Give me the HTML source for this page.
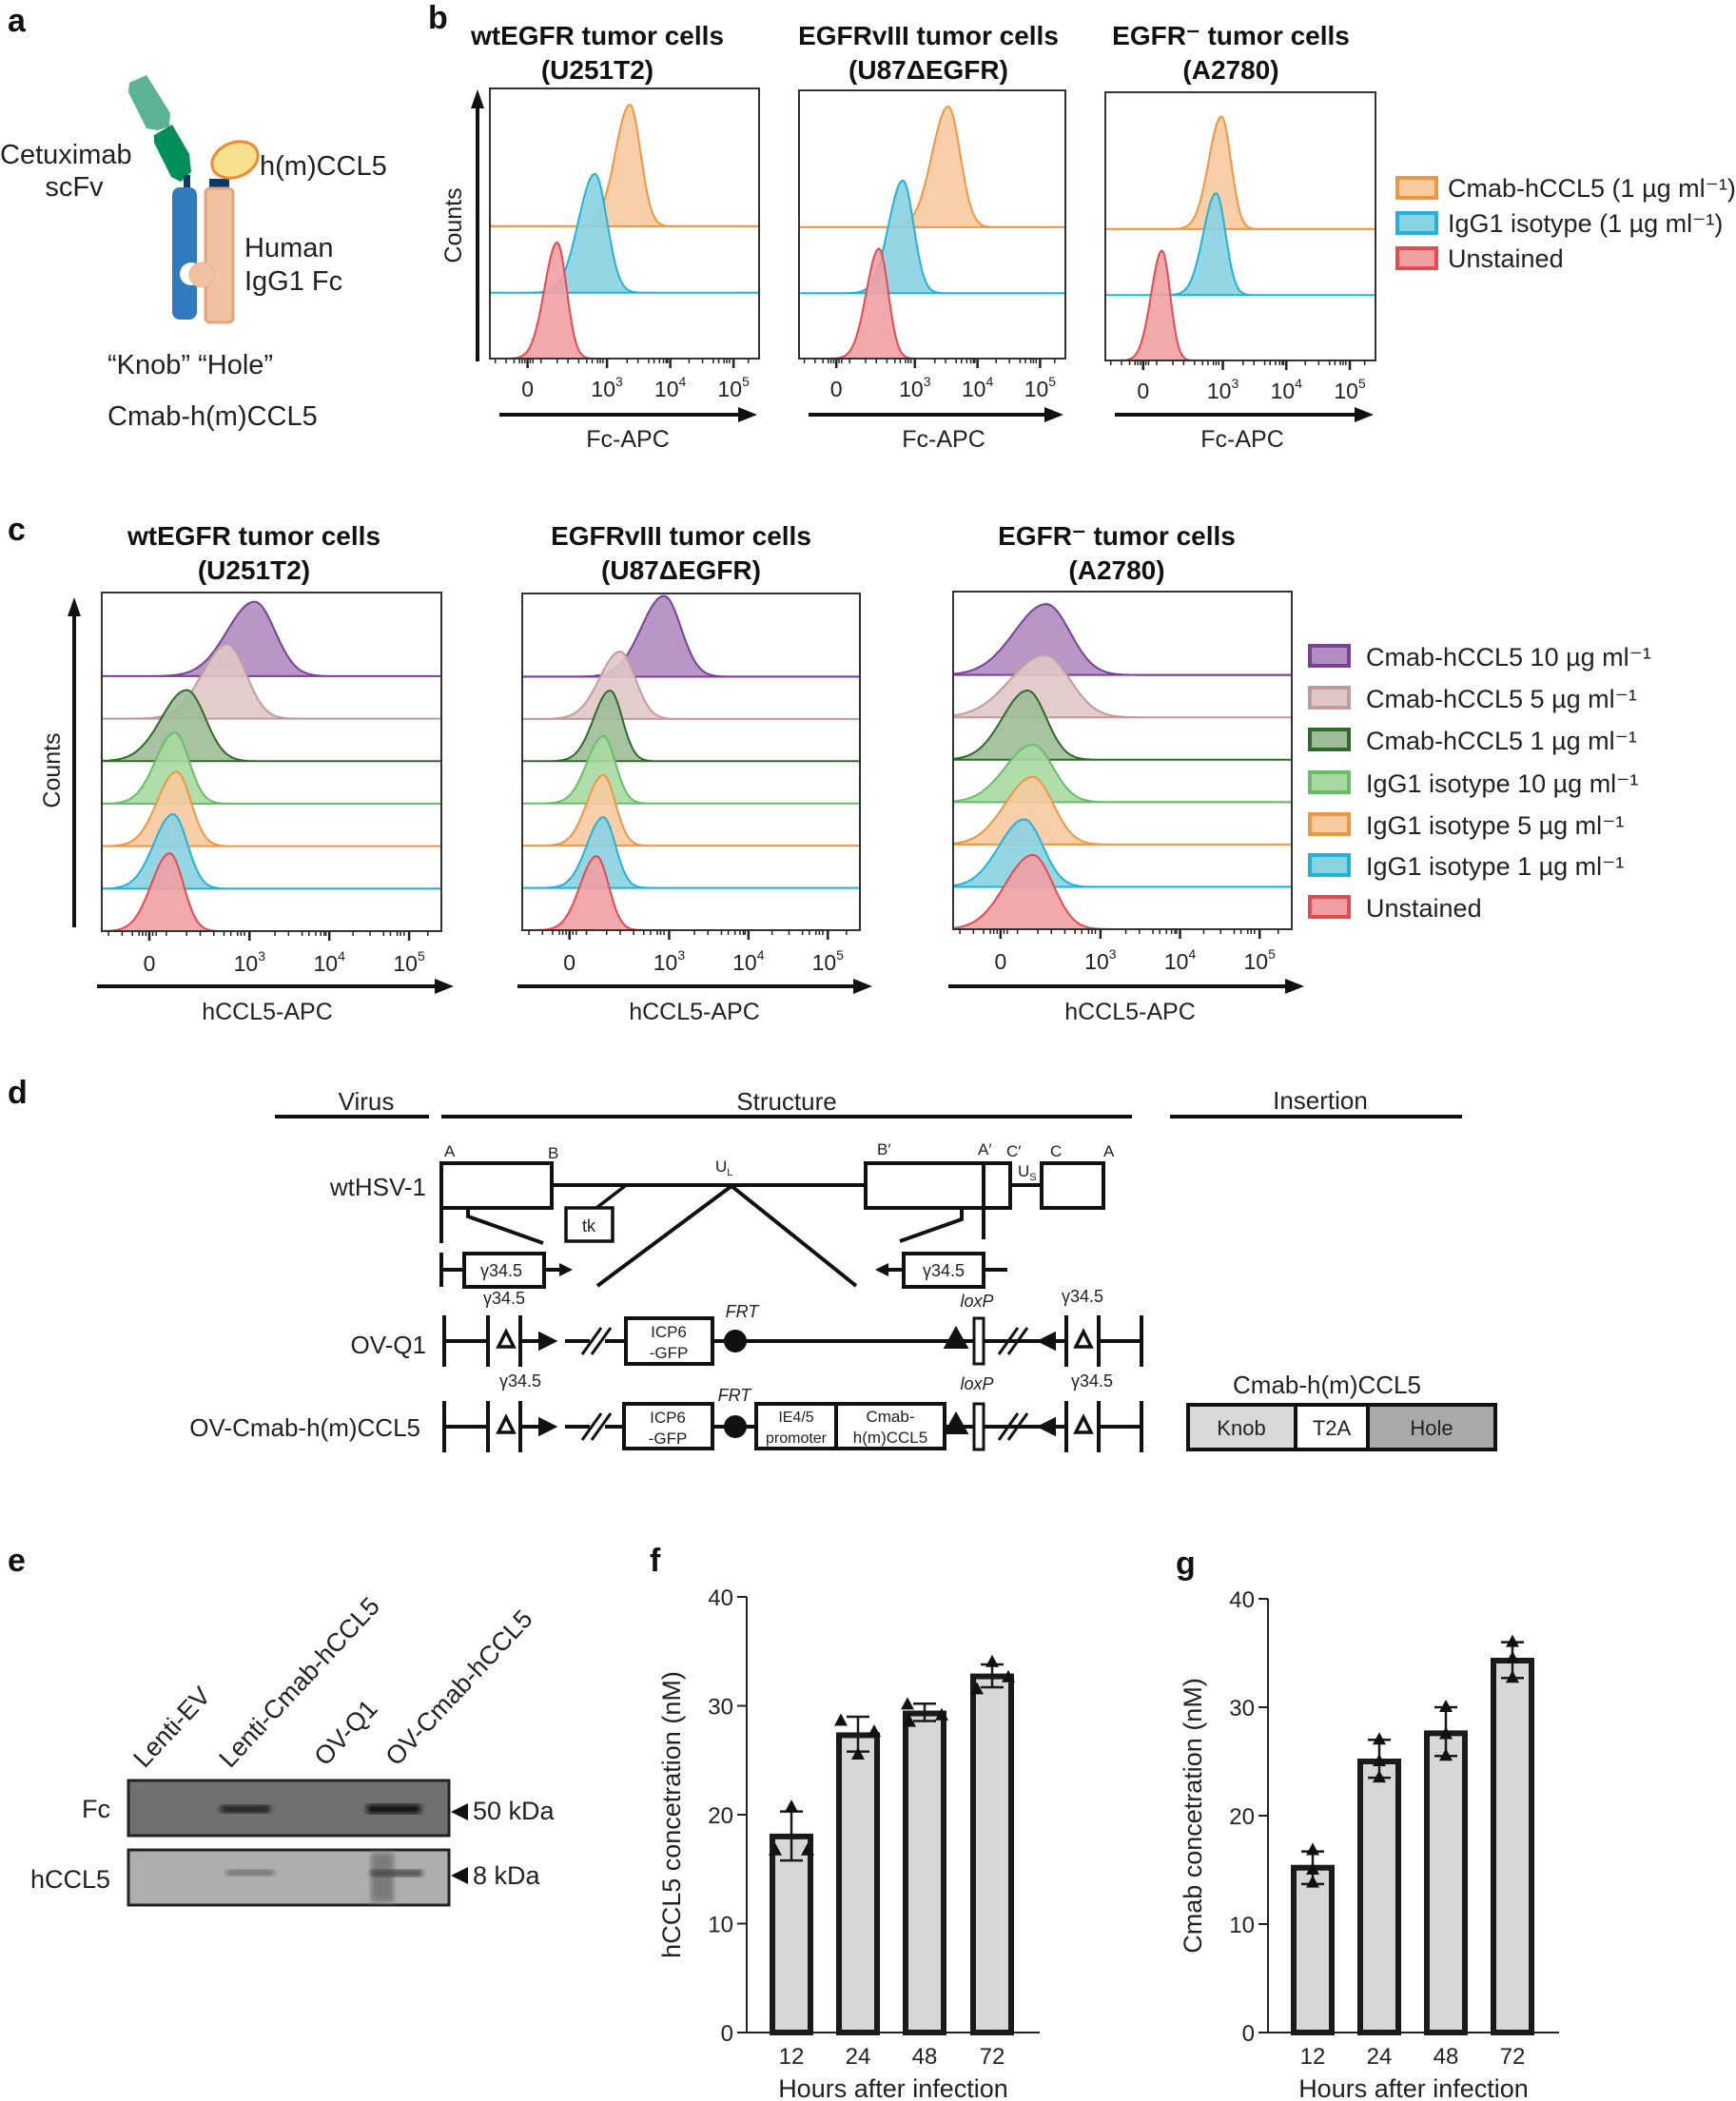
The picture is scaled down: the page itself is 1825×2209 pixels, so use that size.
<!DOCTYPE html>
<html><head><meta charset="utf-8">
<style>
html,body{margin:0;padding:0;background:#fff;}
svg{display:block;font-family:"Liberation Sans",Arial,sans-serif;}
</style></head>
<body>
<svg id="fig" width="1825" height="2209" viewBox="0 0 1825 2209" xmlns="http://www.w3.org/2000/svg">
<g font-weight="bold" font-size="34" fill="#111">
<text x="8" y="33">a</text><text x="450" y="30">b</text><text x="8" y="568">c</text>
<text x="8" y="1160">d</text><text x="8" y="1652">e</text><text x="683" y="1652">f</text><text x="1236" y="1655">g</text>
</g>

<!-- panel a -->
<g>
<polygon points="136,87 154,79 179,119 178,133 166,137 154,135 135,97" fill="#5bb397"/>
<polygon points="162,142 181,131 199,162 201,181 190,191 180,186 162,150" fill="#008f58"/>
<rect x="193" y="184" width="7" height="14" fill="#0b3a6b"/>
<rect x="181" y="197" width="26" height="139" rx="8" fill="#2f7bbd"/>
<rect x="220" y="188" width="21" height="11" fill="#0b3a6b"/>
<rect x="216" y="198" width="29" height="141" rx="5" fill="#efc2a2" stroke="#e8a27a" stroke-width="3"/>
<circle cx="201" cy="288" r="12" fill="#fff"/>
<circle cx="212" cy="289" r="13" fill="#efc2a2" stroke="#e8b490" stroke-width="1"/>
<ellipse cx="247" cy="168" rx="25" ry="18" transform="rotate(-22 247 168)" fill="#f7e08e" stroke="#ef8a34" stroke-width="3"/>
<g font-size="29" fill="#222">
<text x="0" y="172">Cetuximab</text><text x="78" y="206" text-anchor="middle">scFv</text>
<text x="273" y="184">h(m)CCL5</text><text x="257" y="270">Human</text><text x="257" y="305">IgG1 Fc</text>
<text x="113" y="393">“Knob”  “Hole”</text><text x="113" y="447">Cmab-h(m)CCL5</text>
</g>
</g>

<g id="flowB"></g>
<g id="flowC"></g>

<!-- panel d -->
<g stroke="#111" fill="none" stroke-width="4">
<g font-size="26" fill="#222" stroke="none">
<text x="385" y="1167" text-anchor="middle">Virus</text>
<text x="827" y="1167" text-anchor="middle">Structure</text>
<text x="1388" y="1166" text-anchor="middle">Insertion</text>
<text x="448" y="1257" text-anchor="end">wtHSV-1</text>
<text x="448" y="1423" text-anchor="end">OV-Q1</text>
<text x="442" y="1510" text-anchor="end">OV-Cmab-h(m)CCL5</text>
</g>
<line x1="289" y1="1174" x2="451" y2="1174"/><line x1="464" y1="1174" x2="1190" y2="1174"/><line x1="1230" y1="1174" x2="1537" y2="1174"/>
<g font-size="17" fill="#222" stroke="none">
<text x="467" y="1216">A</text><text x="576" y="1218">B</text><text x="752" y="1232">U<tspan font-size="11" dy="4">L</tspan></text>
<text x="922" y="1214">B′</text><text x="1028" y="1214">A′</text><text x="1058" y="1216">C′</text>
<text x="1070" y="1237">U<tspan font-size="11" dy="4">S</tspan></text><text x="1104" y="1216">C</text><text x="1160" y="1216">A</text>
</g>
<rect x="464" y="1223" width="116" height="47"/>
<line x1="580" y1="1246" x2="910" y2="1246"/>
<rect x="910" y="1223" width="152" height="47"/><line x1="1034" y1="1223" x2="1034" y2="1303"/>
<line x1="1062" y1="1246" x2="1095" y2="1246"/><rect x="1095" y="1223" width="65" height="47"/>
<rect x="595" y="1270" width="49" height="35" stroke-width="3.5"/><text x="619" y="1295" font-size="18" fill="#222" stroke="none" text-anchor="middle">tk</text>
<line x1="657" y1="1247" x2="627" y2="1270" stroke-width="3.5"/>
<polyline points="464,1270 464,1307"/><polyline points="492,1270 492,1279 571,1307"/>
<polyline points="1011,1270 1011,1282 946,1305"/>
<polyline points="628,1352 769,1247 900,1352"/>
<line x1="464" y1="1317" x2="464" y2="1353"/><line x1="464" y1="1335" x2="488" y2="1335"/>
<rect x="488" y="1318" width="84" height="35"/><line x1="572" y1="1335" x2="592" y2="1335"/><polygon points="602,1335 588,1328 588,1342" fill="#111" stroke="none"/>
<polygon points="920,1335 934,1328 934,1342" fill="#111" stroke="none"/><line x1="930" y1="1335" x2="950" y2="1335"/>
<rect x="950" y="1318" width="84" height="35"/><line x1="1034" y1="1335" x2="1059" y2="1335"/>
<g font-size="18" fill="#222" stroke="none" text-anchor="middle">
<text x="527" y="1342">γ34.5</text><text x="992" y="1342">γ34.5</text>
<text x="530" y="1371">γ34.5</text><text x="1138" y="1369">γ34.5</text>
<text x="547" y="1458">γ34.5</text><text x="1148" y="1458">γ34.5</text>
<text x="780" y="1385" font-style="italic">FRT</text><text x="772" y="1473" font-style="italic">FRT</text>
<text x="1027" y="1374" font-style="italic">loxP</text><text x="1027" y="1461" font-style="italic">loxP</text>
</g>
<g id="rowQ1"></g>
<g id="rowCmab"></g>
<rect x="658" y="1386" width="91" height="48"/>
<text x="703" y="1406" font-size="17" fill="#222" stroke="none" text-anchor="middle">ICP6</text><text x="703" y="1428" font-size="17" fill="#222" stroke="none" text-anchor="middle">-GFP</text>
<rect x="656" y="1476" width="93" height="47"/>
<text x="702" y="1496" font-size="17" fill="#222" stroke="none" text-anchor="middle">ICP6</text><text x="702" y="1518" font-size="17" fill="#222" stroke="none" text-anchor="middle">-GFP</text>
<rect x="795" y="1476" width="84" height="47"/><rect x="879" y="1476" width="114" height="47"/>
<text x="837" y="1495" font-size="16" fill="#222" stroke="none" text-anchor="middle">IE4/5</text><text x="837" y="1517" font-size="16" fill="#222" stroke="none" text-anchor="middle">promoter</text>
<text x="936" y="1495" font-size="17" fill="#222" stroke="none" text-anchor="middle">Cmab-</text><text x="936" y="1517" font-size="17" fill="#222" stroke="none" text-anchor="middle">h(m)CCL5</text>
<text x="1395" y="1465" font-size="26" fill="#222" stroke="none" text-anchor="middle">Cmab-h(m)CCL5</text>
<rect x="1249" y="1477" width="113" height="47" fill="#d9d9d9"/><rect x="1362" y="1477" width="76" height="47" fill="#fff"/><rect x="1438" y="1477" width="134" height="47" fill="#a9a9a9"/>
<g font-size="22" fill="#222" stroke="none" text-anchor="middle"><text x="1305" y="1509">Knob</text><text x="1400" y="1509">T2A</text><text x="1505" y="1509">Hole</text></g>
</g>

<!-- panel e -->
<g>
<defs>
<filter id="blur3"><feGaussianBlur stdDeviation="3"/></filter>
</defs>
<g font-size="27" fill="#222">
<text transform="translate(152,1860) rotate(-47)">Lenti-EV</text>
<text transform="translate(242,1860) rotate(-47)">Lenti-Cmab-hCCL5</text>
<text transform="translate(342,1858) rotate(-47)">OV-Q1</text>
<text transform="translate(417,1858) rotate(-47)">OV-Cmab-hCCL5</text>
<text x="116" y="1911" text-anchor="end">Fc</text><text x="116" y="1985" text-anchor="end">hCCL5</text>
<text x="497" y="1913">50 kDa</text><text x="497" y="1981">8 kDa</text>
</g>
<polygon points="474,1905 492,1896 492,1914" fill="#111"/><polygon points="474,1972 492,1963 492,1981" fill="#111"/>
<rect x="135" y="1872" width="337" height="58" fill="#707070" stroke="#222" stroke-width="3"/>
<rect x="232" y="1898" width="52" height="8" fill="#1e1e1e" filter="url(#blur3)"/>
<rect x="386" y="1897" width="56" height="10" fill="#111" filter="url(#blur3)"/>
<rect x="135" y="1945" width="337" height="58" fill="#aeaeae" stroke="#222" stroke-width="3"/>
<rect x="238" y="1966" width="50" height="6" fill="#6a6a6a" filter="url(#blur3)"/>
<rect x="390" y="1948" width="24" height="52" fill="#7a7a7a" filter="url(#blur3)"/>
<rect x="390" y="1966" width="54" height="7" fill="#444" filter="url(#blur3)"/>
</g>

<g id="barF"></g>
<g id="barG"></g>
</svg>

<script>
const NS='http://www.w3.org/2000/svg';
function mk(parent,tag,attrs,text){const e=document.createElementNS(NS,tag);for(const k in attrs)e.setAttribute(k,attrs[k]);if(text!==undefined)e.textContent=text;parent.appendChild(e);return e;}

// ---------- flow cytometry data ----------
const tickLabelsFlow=['0','10','10','10'];
const tickExpFlow=['','3','4','5'];
const tickFracFlow=[0.14,0.435,0.67,0.905];
const bSeries=['Cmab-hCCL5 (1 µg ml⁻¹)','IgG1 isotype (1 µg ml⁻¹)','Unstained'];
const bPeak=[[0.52,0.39,0.25],[0.56,0.39,0.30],[0.43,0.41,0.21]];
const bWidth=[[0.04,0.045,0.035],[0.045,0.04,0.035],[0.035,0.035,0.03]];
const bHeight=[[0.45,0.44,0.43],[0.45,0.42,0.41],[0.42,0.38,0.41]];
const bTitles=[['wtEGFR tumor cells','(U251T2)'],['EGFRvIII tumor cells','(U87ΔEGFR)'],['EGFR⁻ tumor cells','(A2780)']];
const cSeries=['Cmab-hCCL5 10 µg ml⁻¹','Cmab-hCCL5 5 µg ml⁻¹','Cmab-hCCL5 1 µg ml⁻¹','IgG1 isotype 10 µg ml⁻¹','IgG1 isotype 5 µg ml⁻¹','IgG1 isotype 1 µg ml⁻¹','Unstained'];
const cPeak=[[0.45,0.37,0.25,0.215,0.22,0.21,0.20],[0.42,0.29,0.26,0.24,0.24,0.24,0.22],[0.275,0.27,0.22,0.235,0.235,0.21,0.235]];
const cWidth=[[0.06,0.055,0.055,0.042,0.042,0.042,0.04],[0.05,0.045,0.036,0.036,0.036,0.036,0.036],[0.07,0.075,0.055,0.06,0.06,0.055,0.06]];
const cHeight=[[0.22,0.22,0.21,0.21,0.22,0.22,0.23],[0.24,0.20,0.21,0.20,0.21,0.21,0.22],[0.21,0.185,0.205,0.17,0.2,0.2,0.22]];
const cTitles=bTitles;

const fills=['#b08cc1','#dfc7c7','#9fbc98','#a7d9a0','#f8caa0','#89d2e2','#f0a0a3'];
const strokes=['#7b3f99','#c39b9b','#2f6a28','#66bf66','#f0963f','#1fb3dc','#e8484f'];
const bFill=['#f8caa0','#89d2e2','#f0a0a3'], bStroke=['#f0963f','#1fb3dc','#e8484f'];

function hist(g,x0,w,yBase,hPx,peak,sig,fill,stroke,name){
  let d='M'+x0+','+yBase;
  const N=160;
  for(let i=0;i<=N;i++){
    const f=i/N;
    const s=f<peak?sig*1.35:sig;
    const v=hPx*Math.exp(-Math.pow(f-peak,2)/(2*s*s));
    d+=' L'+(x0+f*w).toFixed(1)+','+(yBase-v).toFixed(1);
  }
  d+=' L'+(x0+w)+','+yBase+' Z';
  const p=mk(g,'path',{d:d,fill:fill,'fill-opacity':'0.9',stroke:stroke,'stroke-width':'2'});
  
  
}
function axisTicks(g,x0,w,yb,labelY){
  const ps=[0.02,0.06,0.09,0.11,0.12,0.13,0.15,0.16,0.19,0.25,0.29,0.33,0.36,0.38,0.40,0.41,0.42,0.51,0.55,0.59,0.61,0.63,0.645,0.655,0.66,0.74,0.79,0.83,0.85,0.87,0.88,0.89,0.96];
  ps.forEach(p=>mk(g,'line',{x1:x0+p*w,x2:x0+p*w,y1:yb,y2:yb+5,stroke:'#222','stroke-width':1.5}));
  tickFracFlow.forEach((p,i)=>{
    mk(g,'line',{x1:x0+p*w,x2:x0+p*w,y1:yb,y2:yb+10,stroke:'#222','stroke-width':2.5});
    const t=mk(g,'text',{x:x0+p*w,y:labelY,'font-size':23,'text-anchor':'middle',fill:'#222'});
    t.textContent=tickLabelsFlow[i];
    if(tickExpFlow[i]){const s=mk(t,'tspan',{'font-size':14,dy:-11});s.textContent=tickExpFlow[i];}
  });
}

// panel b
(function(){
  const g=document.getElementById('flowB');
  const boxes=[[515,93,283,284],[840,95,280,282],[1162,97,284,282]];
  const titleX=[628,976,1294], labX=[660,992,1306];
  boxes.forEach((b,k)=>{
    const [x,y,w,h]=b;
    const base=[y+0.51*h,y+0.756*h,y+h];
    for(let s=0;s<3;s++){
      mk(g,'line',{x1:x,x2:x+w,y1:base[s],y2:base[s],stroke:bStroke[s],'stroke-width':1.5});
    }
    for(let s=0;s<3;s++) hist(g,x,w,base[s],bHeight[k][s]*h,bPeak[k][s],bWidth[k][s],bFill[s],bStroke[s],'histogram-b'+(k+1)+'-'+s);
    mk(g,'rect',{x:x,y:y,width:w,height:h,fill:'none',stroke:'#333','stroke-width':2});
    axisTicks(g,x,w,y+h,y+h+40);
    mk(g,'line',{x1:x+10,x2:x+w-10,y1:436,y2:436,stroke:'#111','stroke-width':4});
    mk(g,'polygon',{points:(x+w-2)+',436 '+(x+w-22)+',428 '+(x+w-22)+',444',fill:'#111'});
    mk(g,'text',{x:labX[k],y:470,'font-size':25,'text-anchor':'middle',fill:'#222'},'Fc-APC');
    mk(g,'text',{x:titleX[k],y:47,'font-size':28,'font-weight':'bold','text-anchor':'middle',fill:'#111'},bTitles[k][0]);
    mk(g,'text',{x:titleX[k],y:83,'font-size':28,'font-weight':'bold','text-anchor':'middle',fill:'#111'},bTitles[k][1]);
  });
  mk(g,'line',{x1:502,x2:502,y1:380,y2:110,stroke:'#111','stroke-width':4});
  mk(g,'polygon',{points:'502,94 495,114 509,114',fill:'#111'});
  mk(g,'text',{transform:'translate(485,237) rotate(-90)','font-size':25,'text-anchor':'middle',fill:'#222'},'Counts');
  bSeries.forEach((s,i)=>{
    const y=187+i*37;
    const r=mk(g,'rect',{x:1469,y:y,width:41,height:21,fill:bFill[i],stroke:bStroke[i],'stroke-width':4});
    
    
    const t=mk(g,'text',{x:1522,y:y+20,'font-size':27,fill:'#222'},s);
    
    
  });
})();

// panel c
(function(){
  const g=document.getElementById('flowC');
  const boxes=[[107,623,357,356],[549,624,355,354],[1002,622,356,355]];
  const titleX=[267,716,1174], labX=[267,716,1174];
  boxes.forEach((b,k)=>{
    const [x,y,w,h]=b;
    for(let s=0;s<7;s++){
      const yb=y+h-(6-s)*(h*0.1255);
      mk(g,'line',{x1:x,x2:x+w,y1:yb,y2:yb,stroke:strokes[s],'stroke-width':1.5});
    }
    for(let s=0;s<7;s++){
      const yb=y+h-(6-s)*(h*0.1255);
      hist(g,x,w,yb,cHeight[k][s]*h,cPeak[k][s],cWidth[k][s],fills[s],strokes[s],'histogram-c'+(k+1)+'-'+s);
    }
    mk(g,'rect',{x:x,y:y,width:w,height:h,fill:'none',stroke:'#333','stroke-width':2});
    axisTicks(g,x,w,y+h,y+h+42);
    mk(g,'line',{x1:x-5,x2:x+w+5,y1:1037,y2:1037,stroke:'#111','stroke-width':4});
    mk(g,'polygon',{points:(x+w+13)+',1037 '+(x+w-7)+',1029 '+(x+w-7)+',1045',fill:'#111'});
    mk(g,'text',{x:labX[k]+14,y:1072,'font-size':25,'text-anchor':'middle',fill:'#222'},'hCCL5-APC');
    mk(g,'text',{x:titleX[k],y:573,'font-size':28,'font-weight':'bold','text-anchor':'middle',fill:'#111'},cTitles[k][0]);
    mk(g,'text',{x:titleX[k],y:609,'font-size':28,'font-weight':'bold','text-anchor':'middle',fill:'#111'},cTitles[k][1]);
  });
  mk(g,'line',{x1:78,x2:78,y1:975,y2:645,stroke:'#111','stroke-width':4});
  mk(g,'polygon',{points:'78,628 71,648 85,648',fill:'#111'});
  mk(g,'text',{transform:'translate(63,810) rotate(-90)','font-size':25,'text-anchor':'middle',fill:'#222'},'Counts');
  const ly=[679,723,767,812,856,899,943];
  cSeries.forEach((s,i)=>{
    const r=mk(g,'rect',{x:1377,y:ly[i],width:41,height:21,fill:fills[i],stroke:strokes[i],'stroke-width':4});
    
    
    const t=mk(g,'text',{x:1436,y:ly[i]+21,'font-size':27,fill:'#222'},s);
    
    
  });
})();

// panel d rows
function drawRow(id,y){
  const g=document.getElementById(id);
  const L=(x1,y1,x2,y2,w)=>mk(g,'line',{x1:x1,y1:y1,x2:x2,y2:y2,stroke:'#111','stroke-width':w||4});
  [467,513,547].forEach(x=>L(x,y-27,x,y+27));
  L(467,y,513,y);
  mk(g,'polygon',{points:'532,'+(y-10)+' 524,'+(y+6)+' 540,'+(y+6),fill:'none',stroke:'#111','stroke-width':3.5});
  L(547,y,570,y);mk(g,'polygon',{points:'582,'+y+' 568,'+(y-7)+' 568,'+(y+7),fill:'#111'});
  L(594,y,620,y);
  L(612,y+14,632,y-14,3);L(622,y+14,642,y-14,3);
  L(636,y,658,y);
  L(749,y,1024,y);
  mk(g,'circle',{cx:773,cy:y,r:10,fill:'#111'});
  mk(g,'polygon',{points:'1005,'+(y-12)+' 995,'+(y+6)+' 1015,'+(y+6),fill:'#111'});
  mk(g,'rect',{x:1024,y:y-24,width:10,height:48,fill:'#fff',stroke:'#111','stroke-width':3});
  L(1034,y,1094,y);
  L(1050,y+14,1070,y-14,3);L(1060,y+14,1080,y-14,3);
  mk(g,'polygon',{points:'1094,'+y+' 1108,'+(y-7)+' 1108,'+(y+7),fill:'#111'});
  L(1106,y,1121,y);
  [1121,1155,1200].forEach(x=>L(x,y-27,x,y+27));
  mk(g,'polygon',{points:'1139,'+(y-10)+' 1131,'+(y+6)+' 1147,'+(y+6),fill:'none',stroke:'#111','stroke-width':3.5});
  L(1155,y,1200,y);
}
drawRow('rowQ1',1410);
drawRow('rowCmab',1500);
document.getElementById('rowCmab').querySelectorAll('line').forEach(l=>{
  if(l.getAttribute('x1')==='749'&&l.getAttribute('x2')==='1024'){l.setAttribute('x1','993');}
});
mk(document.getElementById('rowCmab'),'line',{x1:749,y1:1500,x2:795,y2:1500,stroke:'#111','stroke-width':4});
(function(){const c=document.getElementById('rowCmab').querySelector('circle');document.getElementById('rowCmab').appendChild(c);})();

// ---------- bar charts ----------
const hours=['12','24','48','72'];
const fMeans=[18,27.3,29.3,32.7];
const fErrLo=[15.8,25.8,28.6,31.7];
const fErrHi=[20.3,29.0,30.2,33.8];
const fPts=[[20.7,16.7,16.7],[28.6,27.6,25.5],[30.1,29.1,28.5],[34.0,31.5,32.6]];
const gMeans=[15.2,25.0,27.6,34.3];
const gErrLo=[13.7,23.5,25.5,32.7];
const gErrHi=[16.7,27.0,30.0,36.0];
const gPts=[[16.8,15.0,13.8],[27.0,25.0,23.5],[30.0,27.5,25.5],[36.0,34.5,32.7]];
const yTicks=[0,10,20,30,40];

function barChart(id,axX,y0,y40,xEnd,centers,means,lo,hi,pts,ytitle,ptOffsets){
  const g=document.getElementById(id);
  const yS=v=>y0-(v/40)*(y0-y40);
  mk(g,'line',{x1:axX,x2:axX,y1:y40,y2:y0,stroke:'#222','stroke-width':2});
  mk(g,'line',{x1:axX-10,x2:xEnd,y1:y0,y2:y0,stroke:'#222','stroke-width':2});
  yTicks.forEach(v=>{
    mk(g,'line',{x1:axX-10,x2:axX,y1:yS(v),y2:yS(v),stroke:'#222','stroke-width':2});
    mk(g,'text',{x:axX-14,y:yS(v)+9,'font-size':24,'text-anchor':'end',fill:'#222'},String(v));
  });
  means.forEach((m,i)=>{
    const cx=centers[i];
    const r=mk(g,'rect',{x:cx-20,y:yS(m),width:40,height:y0-yS(m),fill:'#d6d7d9',stroke:'#1a1a1a','stroke-width':6});
    
    
    mk(g,'line',{x1:cx,x2:cx,y1:yS(lo[i]),y2:yS(hi[i]),stroke:'#1a1a1a','stroke-width':2.5});
    mk(g,'line',{x1:cx-12,x2:cx+12,y1:yS(hi[i]),y2:yS(hi[i]),stroke:'#1a1a1a','stroke-width':2.5});
    mk(g,'line',{x1:cx-12,x2:cx+12,y1:yS(lo[i]),y2:yS(lo[i]),stroke:'#1a1a1a','stroke-width':2.5});
    pts[i].forEach((p,j)=>{
      const px=cx+ptOffsets[i][j], py=yS(p);
      const t=mk(g,'polygon',{points:px+','+(py-8)+' '+(px-7)+','+(py+5)+' '+(px+7)+','+(py+5),fill:'#111'});
      
      
    });
    mk(g,'text',{x:cx,y:y0+33,'font-size':24,'text-anchor':'middle',fill:'#222'},hours[i]);
  });
  mk(g,'text',{x:(axX+xEnd)/2,y:y0+68,'font-size':27,'text-anchor':'middle',fill:'#222'},'Hours after infection');
  mk(g,'text',{transform:'translate('+(axX-70)+','+((y0+y40)/2)+') rotate(-90)','font-size':27,'text-anchor':'middle',fill:'#222'},ytitle);
}
barChart('barF',785,2137,1679,1093,[832,902,972,1043],fMeans,fErrLo,fErrHi,fPts,'hCCL5 concetration (nM)',[[0,-17,17],[-18,17,0],[-18,18,-16],[0,-16,17]]);
barChart('barG',1333,2137,1681,1639,[1380,1450,1520,1590],gMeans,gErrLo,gErrHi,gPts,'Cmab concetration (nM)',[[0,0,0],[0,0,0],[0,0,0],[0,0,0]]);
</script>
</body></html>
